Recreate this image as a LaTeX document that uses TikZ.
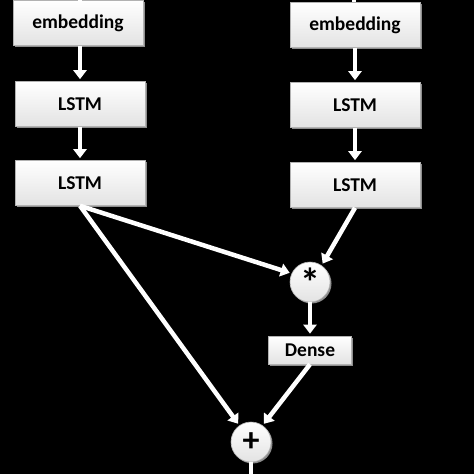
\documentclass[tikz,border=0pt]{standalone}
\usepackage{fontspec}
\setmainfont{Carlito}
\usetikzlibrary{arrows.meta,shadows}
\begin{document}
\begin{tikzpicture}[x=1pt,y=-1pt,
  boxnode/.style={draw=gray!60,line width=0.6pt,top color=white,bottom color=gray!22,
    minimum width=130pt,minimum height=45pt,font=\fontsize{19.5}{22}\selectfont\bfseries,
    drop shadow={shadow xshift=1.5pt,shadow yshift=-1.5pt,fill=gray!60,opacity=0.8}},
  opnode/.style={circle,draw=gray!60,line width=0.6pt,top color=white,bottom color=gray!22,
    minimum size=40pt,inner sep=0pt,
    drop shadow={shadow xshift=1.5pt,shadow yshift=-1.5pt,fill=gray!60,opacity=0.8}},
  conn/.style={draw=white,line width=4.5pt,shorten >=2pt,-{Triangle[length=9pt,width=13pt]}},
  plainconn/.style={draw=white,line width=4.5pt}]
\fill[black] (0,0) rectangle (474,474);
\useasboundingbox (0,0) rectangle (474,474);
% left column
\node[boxnode] (e1) at (78,23) {embedding};
\node[boxnode] (l1a) at (80,104) {LSTM};
\node[boxnode] (l1b) at (80,183) {LSTM};
% right column
\node[boxnode] (e2) at (355,25) {embedding};
\node[boxnode] (l2a) at (355,105) {LSTM};
\node[boxnode] (l2b) at (355,185) {LSTM};
% operators
\node[opnode,font=\fontsize{40}{40}\selectfont\bfseries] (mul) at (310,282) {\raisebox{-14pt}{*}};
\node[boxnode,minimum width=83pt,minimum height=28pt] (dense) at (310,350) {Dense};
\node[opnode,font=\fontsize{34}{34}\selectfont\bfseries] (add) at (251,442) {+};
% free ends
\coordinate (t1) at (80,0);
\coordinate (t2) at (354,0);
\coordinate (bot) at (251,474);
\draw[plainconn] (t1) -- (e1.north -| t1);
\draw[plainconn] (t2) -- (e2.north -| t2);
\draw[conn] (e1.south -| l1a) -- (l1a.north);
\draw[conn] (l1a.south) -- (l1b.north);
\draw[conn] (e2.south) -- (l2a.north);
\draw[conn] (l2a.south) -- (l2b.north);
\draw[conn] (l1b.south) -- (mul.155);
\draw[conn] (l1b.south) -- (add.125);
\draw[conn] (l2b.south) -- (mul.55);
\draw[conn] (mul.south) -- (dense.north);
\draw[conn] (dense.south) -- (add.55);
\draw[plainconn] (add.south) -- (bot);
\end{tikzpicture}
\end{document}
